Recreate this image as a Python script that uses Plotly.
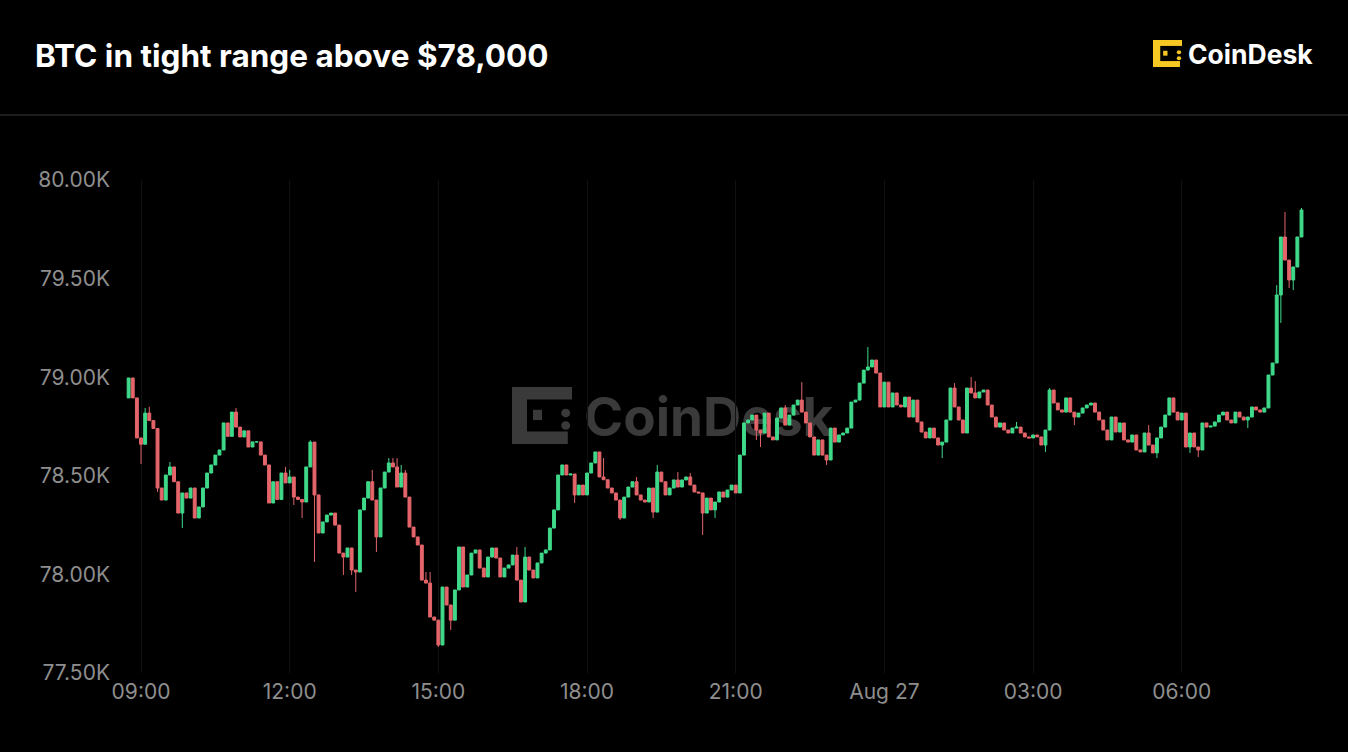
import plotly.graph_objects as go
import pandas as pd

# ---------------- data ----------------
start_time = "2025-08-26 08:45"
first_open = 78895

close = [
    78996, 78895, 78692, 78660, 78818, 78780, 78740, 78438, 78377, 78504,
    78545, 78470, 78311, 78413, 78387, 78438, 78286, 78342, 78438, 78514,
    78555, 78605, 78631, 78768, 78700, 78823, 78747, 78697, 78728, 78646,
    78672, 78672, 78605, 78555,
    78362, 78470, 78380, 78514, 78464, 78494, 78392, 78380, 78367, 78545,
    78671, 78403, 78210, 78266, 78301, 78311, 78250, 78108, 78088, 78134,
    78022, 78012, 78327, 78387, 78470, 78377, 78190, 78438, 78519, 78565,
    78545, 78443, 78514, 78392, 78240, 78190, 78149, 77971, 77956,
    77784, 77768, 77642, 77936, 77845, 77768, 77921, 78139, 77936, 77997,
    78108, 78124, 78032, 77987, 78088, 78134, 78083, 77987, 78032, 78048,
    78098, 77971, 77860, 78088, 78022, 77982, 78058, 78108, 78124, 78235,
    78327, 78504, 78555, 78504, 78509, 78403, 78453,
    78403, 78514, 78565, 78621, 78494, 78480, 78438, 78413, 78377, 78286,
    78392, 78443, 78470, 78403, 78377, 78367, 78438, 78316, 78519, 78470,
    78403, 78438, 78479, 78443, 78479, 78494, 78453, 78418, 78413, 78311,
    78387, 78327, 78367, 78418, 78392, 78428, 78453, 78413,
    78605, 78768, 78783, 78808, 78732, 78717, 78818, 78697, 78682, 78793,
    78844, 78757, 78808, 78859, 78884, 78823, 78768, 78697, 78605, 78682,
    78605, 78580, 78742, 78671, 78707, 78717, 78742, 78874, 78884, 78970,
    79036, 79052, 79087, 79021,
    78849, 78975, 78849, 78920, 78859, 78849, 78899, 78798, 78884, 78773,
    78722, 78692, 78742, 78692, 78656, 78671, 78783, 78945, 78849, 78783,
    78717, 78945, 78920, 78895, 78925, 78935, 78859, 78798, 78747, 78768,
    78732, 78717, 78742, 78747, 78717, 78697, 78692,
    78707, 78697, 78656, 78732, 78935, 78869, 78834, 78823, 78895, 78823,
    78798, 78818, 78844, 78859, 78869, 78823, 78783, 78732, 78682, 78798,
    78722, 78768, 78682, 78671, 78707, 78631, 78621, 78717, 78656, 78616,
    78692, 78747, 78808, 78895, 78823, 78783, 78818, 78646,
    78717, 78646, 78631, 78768, 78747, 78752, 78773, 78808, 78823, 78783,
    78768, 78823, 78798, 78783, 78798, 78849, 78834, 78823, 78844, 79011,
    79072, 79417, 79711, 79594, 79493, 79559, 79711, 79848,
]

# notable wick extremes (candle index -> price)
high_marks = {
    4: 78844, 5: 78850, 10: 78570, 26: 78844, 38: 78545, 39: 78530,
    44: 78680, 59: 78530, 63: 78590, 64: 78590, 65: 78590, 66: 78555,
    67: 78530, 72: 78012, 73: 78012, 94: 78139, 96: 78139, 115: 78590,
    123: 78494, 128: 78555, 133: 78519, 136: 78514, 159: 78859,
    163: 78975, 179: 79153, 200: 78970, 204: 79001, 205: 78980,
    215: 78773, 223: 78945, 247: 78757, 278: 79467, 280: 79838,
    284: 79858,
}
low_marks = {
    3: 78560, 7: 78418, 13: 78235, 40: 78352, 42: 78286, 45: 78063,
    52: 77997, 54: 77997, 55: 77911, 60: 78114, 75: 77632, 78: 77718,
    108: 78362, 119: 78276, 127: 78286, 139: 78200, 142: 78286,
    152: 78682, 153: 78646, 169: 78555, 197: 78590, 222: 78621,
    229: 78757, 249: 78590, 257: 78616, 259: 78595, 271: 78742,
    279: 79275, 281: 79452, 282: 79442,
}

y_tick_values = [77500, 78000, 78500, 79000, 79500, 80000]
y_tick_labels = ["77.50K", "78.00K", "78.50K", "79.00K", "79.50K", "80.00K"]
x_tick_values = ["2025-08-26 09:00", "2025-08-26 12:00", "2025-08-26 15:00",
                 "2025-08-26 18:00", "2025-08-26 21:00", "2025-08-27 00:00",
                 "2025-08-27 03:00", "2025-08-27 06:00"]
x_tick_labels = ["09:00", "12:00", "15:00", "18:00", "21:00", "Aug 27",
                 "03:00", "06:00"]

title_text = "BTC in tight range above $78,000"
brand_text = "CoinDesk"

# ---------------- build OHLC ----------------
times = pd.date_range(start_time, periods=len(close), freq="5min")
opens = [first_open] + close[:-1]
highs, lows = [], []
for i, (o, c) in enumerate(zip(opens, close)):
    highs.append(max(o, c, high_marks.get(i, 0)))
    lows.append(min(o, c, low_marks.get(i, 10**9)))

# ---------------- figure ----------------
W, H = 1348, 752
ML, MR, MT, MB = 115, 28, 180, 79
PW, PH = W - ML - MR, H - MT - MB


def px(xp):
    return (xp - ML) / PW


def py(yp):
    return (H - MB - yp) / PH


GREEN = "#3fd98a"
RED = "#e4656a"

fig = go.Figure()
fig.add_trace(go.Candlestick(
    x=times, open=opens, high=highs, low=lows, close=close,
    increasing=dict(line=dict(color=GREEN, width=1), fillcolor=GREEN),
    decreasing=dict(line=dict(color=RED, width=1), fillcolor=RED),
    whiskerwidth=0, hoverinfo="skip", showlegend=False,
))

shapes = []
# header separator
shapes.append(dict(type="line", xref="paper", yref="paper",
                   x0=px(0), x1=px(W), y0=py(115), y1=py(115),
                   line=dict(color="#1c1c1c", width=2), layer="above"))


def logo(x0, y0, w, h, color, layer):
    # bracket-like CoinDesk mark, in pixel units scaled to the box
    parts = [
        (0.00, 0.00, 1.00, 0.22),   # top bar
        (0.00, 0.00, 0.25, 1.00),   # left bar
        (0.00, 0.78, 0.93, 1.00),   # bottom bar
        (0.35, 0.40, 0.50, 0.58),   # inner square
    ]
    out = []
    for a, b, c, d in parts:
        out.append(dict(type="rect", xref="paper", yref="paper",
                        x0=px(x0 + a * w), x1=px(x0 + c * w),
                        y0=py(y0 + b * h), y1=py(y0 + d * h),
                        fillcolor=color, line=dict(width=0), layer=layer))
    for b in (0.38, 0.60):
        out.append(dict(type="circle", xref="paper", yref="paper",
                        x0=px(x0 + 0.82 * w), x1=px(x0 + 0.97 * w),
                        y0=py(y0 + b * h), y1=py(y0 + (b + 0.15) * h),
                        fillcolor=color, line=dict(width=0), layer=layer))
    return out


shapes += logo(1153, 40, 29, 27, "#f7c823", "above")
shapes += logo(512, 387, 60, 57, "#3a3a3a", "below")
# watermark word, drawn under the candles
shapes.append(dict(type="rect", xref="paper", yref="paper",
                   x0=px(578), x1=px(840), y0=py(440), y1=py(390),
                   line=dict(width=0), fillcolor="rgba(0,0,0,0)", layer="below",
                   label=dict(text="<b>" + brand_text + "</b>",
                              font=dict(family="Inter", size=53, color="#3a3a3a"),
                              textposition="middle left")))

annotations = [
    dict(text="<b>" + title_text + "</b>", xref="paper", yref="paper",
         x=px(33), y=py(55), xanchor="left", yanchor="middle", showarrow=False,
         font=dict(family="Inter", size=31.5, color="#ffffff")),
    dict(text="<b>" + brand_text + "</b>", xref="paper", yref="paper",
         x=px(1186), y=py(54), xanchor="left", yanchor="middle", showarrow=False,
         font=dict(family="Inter", size=26.5, color="#ffffff")),
]

fig.update_layout(
    width=W, height=H,
    margin=dict(l=ML, r=MR, t=MT, b=MB, pad=0),
    paper_bgcolor="#000000", plot_bgcolor="#000000",
    boxgap=0.0,
    shapes=shapes, annotations=annotations,
    showlegend=False,
    font=dict(family="Inter", color="#8e8e8e", size=21),
    xaxis=dict(
        type="date",
        range=["2025-08-26 08:28:30", "2025-08-27 08:47:24"],
        tickvals=x_tick_values, ticktext=x_tick_labels,
        showgrid=True, gridcolor="#111111", gridwidth=1,
        zeroline=False, showline=False, ticks="",
        rangeslider=dict(visible=False),
        tickfont=dict(family="Inter", size=21, color="#8e8e8e"),
        ticklabelstandoff=4,
        fixedrange=True,
    ),
    yaxis=dict(
        range=[77500, 80000],
        tickvals=y_tick_values, ticktext=y_tick_labels,
        showgrid=False, zeroline=False, showline=False, ticks="",
        tickfont=dict(family="Inter", size=21, color="#8e8e8e"),
        ticklabelstandoff=4,
        fixedrange=True,
    ),
)

fig.write_html(
    "out.html",
    config={"displayModeBar": False},
    post_script="document.body.style.margin='0';"
                "document.body.style.overflow='hidden';"
                "document.body.style.background='#000';",
)
